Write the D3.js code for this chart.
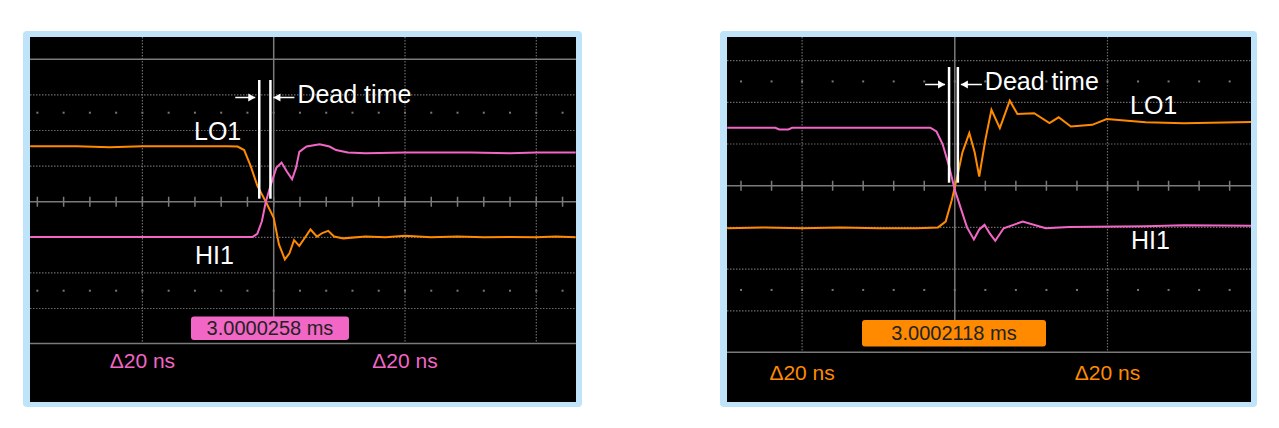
<!DOCTYPE html>
<html><head><meta charset="utf-8">
<script src="https://cdn.jsdelivr.net/npm/d3@7"></script>
<style>body{margin:0;background:#fff}svg{display:block}</style>
</head><body>
<svg id="chart" width="1279" height="428"></svg>
<script>
// time in ns (0 = trigger line), level in divisions (0 = centre line)
var leftLoTime = [-37.1,-30,-25,-20,-15,-10,-7,-5.5,-4.5,-3.5,-2.5,-1.2,0,0.8,1.7,2.4,3.1,3.9,4.8,5.6,6.6,7.4,8.3,9.2,10.6,14,17,20,24,28,32,36,40,43,46];
var leftLoLevel = [1.56,1.56,1.53,1.56,1.56,1.56,1.56,1.55,1.45,1.0,0.45,0,-0.45,-1.2,-1.62,-1.45,-1.08,-1.24,-1.0,-0.78,-0.98,-0.88,-0.82,-0.98,-1.03,-0.98,-1.0,-0.96,-1.0,-0.98,-1.0,-0.99,-1.0,-0.98,-1.0];
var leftHiTime = [-37.1,-10,-3.2,-2.5,-1.8,-1.2,-0.4,0.4,1.2,2.0,2.8,3.4,3.9,5,7,8.5,9.5,11.3,14,20,30,36,40,46];
var leftHiLevel = [-0.99,-0.99,-0.99,-0.9,-0.55,0,0.5,0.95,1.1,0.85,0.63,0.95,1.4,1.55,1.61,1.55,1.45,1.38,1.36,1.38,1.38,1.36,1.38,1.38];

var rightLoTime = [-29.8,-25,-20,-15,-10,-5,-2.2,-1.2,-0.4,0.3,1.0,1.9,2.6,3.2,4.0,4.8,5.9,7.2,8.2,10.4,12.4,13.6,15.2,18,19.9,25,30,38.8];
var rightLoLevel = [-1.02,-1.0,-1.02,-1.0,-1.02,-1.02,-1.0,-0.86,-0.35,0.2,0.8,1.26,0.8,0.22,1.1,1.82,1.38,2.04,1.72,1.74,1.5,1.64,1.42,1.46,1.6,1.52,1.5,1.53];
var rightHiTime = [-29.8,-23.5,-23,-21.8,-21.3,-10,-3.2,-2.4,-1.6,-0.8,0,0.8,1.6,2.5,3.2,3.9,4.6,5.3,6.4,8.9,11.9,15,25,30,38.8];
var rightHiLevel = [1.39,1.39,1.35,1.35,1.39,1.39,1.39,1.3,1.0,0.5,-0.1,-0.55,-1.0,-1.29,-1.05,-0.94,-1.15,-1.32,-1.02,-0.86,-1.02,-0.99,-0.97,-0.95,-0.96];

var deadTimes = [[-2.2, -0.5], [-0.75, 0.4]];   // marker lines (ns)
var stampLabels = ["3.0000258 ms", "3.0002118 ms"];
var deltaLabels = ["\u039420 ns", "\u039420 ns"];

var ORANGE = "#ff8a00", PINK = "#f266c6";
var svg = d3.select("#chart");

function drawScope(cfg) {
  var g = svg.append("g");
  // frame
  g.append("rect").attr("x", cfg.bx).attr("y", 31).attr("width", cfg.bw).attr("height", 376)
    .attr("rx", 4).attr("fill", "#bfe3f8");
  g.append("rect").attr("x", cfg.px0).attr("y", 37).attr("width", cfg.px1 - cfg.px0).attr("height", 365).attr("fill", "#000");

  var x = d3.scaleLinear().domain([0, 20]).range([cfg.cx, cfg.cx + cfg.divW]);
  var y = d3.scaleLinear().domain([0, 1]).range([cfg.cy, cfg.cy - cfg.divH]);
  var plot = g.append("g");
  var clipId = "clip" + cfg.id;
  svg.append("clipPath").attr("id", clipId).append("rect")
    .attr("x", cfg.px0).attr("y", 37).attr("width", cfg.px1 - cfg.px0).attr("height", cfg.yBottom - 37);
  plot.attr("clip-path", "url(#" + clipId + ")");

  var tMin = x.invert(cfg.px0), tMax = x.invert(cfg.px1);
  var majors = d3.range(Math.ceil(tMin / 20) * 20, tMax, 20);
  var minors = d3.range(Math.ceil(tMin / 4) * 4, tMax, 4);
  var rows = d3.range(-4, 5).filter(function (d) { return y(d) > 37 && y(d) <= cfg.yBottom + 1; });

  // dotted horizontal grid
  rows.forEach(function (r) {
    if (r === 0 || r === -4 || r === 4) return;
    plot.append("line").attr("x1", cfg.px0).attr("x2", cfg.px1).attr("y1", y(r)).attr("y2", y(r))
      .attr("stroke", "#6a6a6a").attr("stroke-width", 1.2).attr("stroke-dasharray", "1.5,1.5");
  });
  // dotted vertical grid
  majors.forEach(function (t) {
    if (t === 0) return;
    plot.append("line").attr("x1", x(t)).attr("x2", x(t)).attr("y1", 37).attr("y2", cfg.yBottom)
      .attr("stroke", "#6a6a6a").attr("stroke-width", 1.2).attr("stroke-dasharray", "1.5,1.5");
  });
  // sparse dot rows between half divisions
  [2.5, -2.5].forEach(function (r) {
    plot.selectAll(null).data(minors).enter().append("rect")
      .attr("x", function (t) { return x(t) - 1; }).attr("y", y(r) - 1).attr("width", 2).attr("height", 2).attr("fill", "#777");
  });
  // solid lines
  plot.append("line").attr("x1", cfg.px0).attr("x2", cfg.px1).attr("y1", y(0)).attr("y2", y(0)).attr("stroke", "#7a7a7a").attr("stroke-width", 1.5);
  plot.selectAll(null).data(minors).enter().append("line")
    .attr("x1", function (t) { return x(t); }).attr("x2", function (t) { return x(t); })
    .attr("y1", y(0) - 5).attr("y2", y(0) + 5).attr("stroke", "#7a7a7a").attr("stroke-width", 1.5);
  plot.append("line").attr("x1", x(0)).attr("x2", x(0)).attr("y1", 37).attr("y2", cfg.yBottom - 26).attr("stroke", "#7a7a7a").attr("stroke-width", 1.5);
  if (y(4) > 37) g.append("line").attr("x1", cfg.px0).attr("x2", cfg.px1).attr("y1", y(4)).attr("y2", y(4)).attr("stroke", "#7a7a7a").attr("stroke-width", 1.5);
  g.append("line").attr("x1", cfg.px0).attr("x2", cfg.px1).attr("y1", cfg.yBottom).attr("y2", cfg.yBottom).attr("stroke", "#7a7a7a").attr("stroke-width", 1.5);

  // traces
  var line = d3.line().x(function (d) { return x(d[0]); }).y(function (d) { return y(d[1]); });
  cfg.traces.forEach(function (tr) {
    plot.append("path").datum(d3.zip(tr.t, tr.v)).attr("d", line)
      .attr("fill", "none").attr("stroke", tr.color).attr("stroke-width", 2);
  });

  // dead time markers
  var dt = cfg.dead;
  dt.forEach(function (t) {
    g.append("line").attr("x1", x(t)).attr("x2", x(t)).attr("y1", cfg.deadTop).attr("y2", y(0) - 3)
      .attr("stroke", "#fff").attr("stroke-width", 2.5);
  });
  var ay = cfg.arrowY;
  function arrow(x1, x2) {
    g.append("line").attr("x1", x1).attr("x2", x2).attr("y1", ay).attr("y2", ay).attr("stroke", "#fff").attr("stroke-width", 1.5);
    var s = x2 > x1 ? -1 : 1;
    g.append("path").attr("d", "M" + x2 + "," + ay + "L" + (x2 + s * 7) + "," + (ay - 4) + "L" + (x2 + s * 7) + "," + (ay + 4) + "Z").attr("fill", "#fff");
  }
  arrow(x(dt[0]) - 24, x(dt[0]) - 4);
  arrow(x(dt[1]) + 24, x(dt[1]) + 3);
  g.append("text").attr("x", x(dt[1]) + 27).attr("y", ay + 5).text("Dead time")
    .attr("fill", "#fff").attr("font-size", 25).attr("font-family", "Liberation Sans, Arial, sans-serif");
  g.append("text").attr("x", cfg.loPos[0]).attr("y", cfg.loPos[1]).text("LO1")
    .attr("fill", "#fff").attr("font-size", 25).attr("font-family", "Liberation Sans, Arial, sans-serif");
  g.append("text").attr("x", cfg.hiPos[0]).attr("y", cfg.hiPos[1]).text("HI1")
    .attr("fill", "#fff").attr("font-size", 25).attr("font-family", "Liberation Sans, Arial, sans-serif");

  // timestamp
  var st = cfg.stamp;
  g.append("rect").attr("x", st[0]).attr("y", st[1]).attr("width", st[2]).attr("height", st[3]).attr("rx", 3).attr("fill", cfg.stampColor);
  g.append("text").attr("x", st[0] + st[2] / 2).attr("y", st[1] + st[3] / 2 + 7).attr("text-anchor", "middle")
    .text(cfg.stampText).attr("fill", "#222").attr("font-size", 20).attr("font-family", "Liberation Sans, Arial, sans-serif");
  // delta labels under the outer major lines
  [-20, 20].forEach(function (t) {
    g.append("text").attr("x", x(t)).attr("y", cfg.deltaY).attr("text-anchor", "middle").text(cfg.deltaText)
      .attr("fill", cfg.stampColor).attr("font-size", 21).attr("font-family", "Liberation Sans, Arial, sans-serif");
  });
}

drawScope({
  id: 0, bx: 23, bw: 559, px0: 30, px1: 576, cx: 273.7, divW: 131.3, cy: 201.7, divH: 35.6, yBottom: 343.5,
  traces: [{ t: leftLoTime, v: leftLoLevel, color: ORANGE }, { t: leftHiTime, v: leftHiLevel, color: PINK }],
  dead: deadTimes[0], deadTop: 80, arrowY: 97.5, loPos: [194, 140], hiPos: [195, 264],
  stamp: [191, 316.5, 158, 23.5], stampColor: PINK, stampText: stampLabels[0], deltaText: deltaLabels[0], deltaY: 368
});
drawScope({
  id: 1, bx: 720, bw: 537, px0: 727, px1: 1251, cx: 954.8, divW: 152.7, cy: 185.7, divH: 41.7, yBottom: 352.3,
  traces: [{ t: rightLoTime, v: rightLoLevel, color: ORANGE }, { t: rightHiTime, v: rightHiLevel, color: PINK }],
  dead: deadTimes[1], deadTop: 67, arrowY: 84.5, loPos: [1130, 114], hiPos: [1131, 249],
  stamp: [862, 320, 184, 26.5], stampColor: ORANGE, stampText: stampLabels[1], deltaText: deltaLabels[1], deltaY: 380
});
</script>
</body></html>
